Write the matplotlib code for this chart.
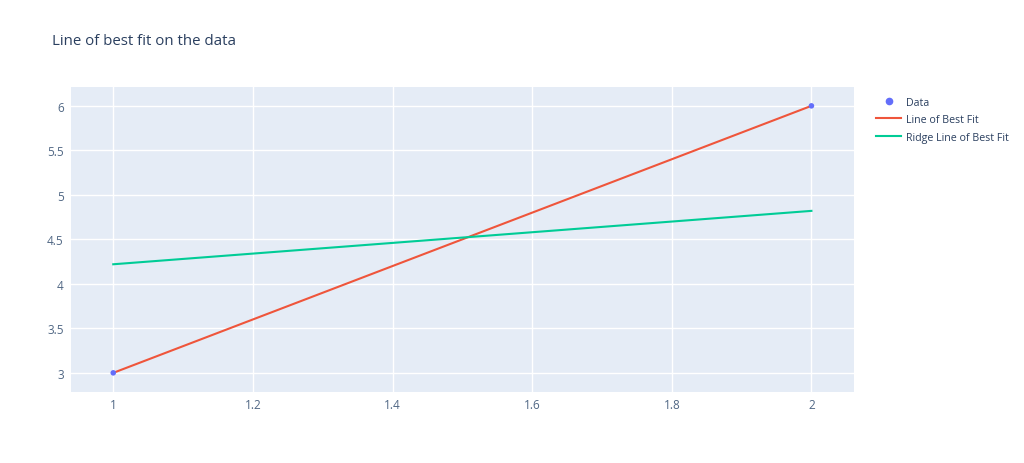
import matplotlib
matplotlib.use('Agg')
import matplotlib.pyplot as plt
from matplotlib.lines import Line2D
from matplotlib.ticker import FuncFormatter

# data
data_x = [1, 2]
data_y = [3, 6]
fit_x = [1, 2]
fit_y = [3, 6]
ridge_x = [1, 2]
ridge_y = [4.22, 4.82]
x_ticks = [1, 1.2, 1.4, 1.6, 1.8, 2]
y_ticks = [3, 3.5, 4, 4.5, 5, 5.5, 6]

plt.rcParams['font.family'] = ['Open Sans', 'DejaVu Sans']
text_color = '#2a3f5f'
tick_color = '#506784'

fig = plt.figure(figsize=(10.24, 4.64), dpi=100)
ax = fig.add_axes([0.069, 0.154, 0.765, 0.656])
ax.set_facecolor('#E5ECF6')

ax.plot(fit_x, fit_y, color='#EF553B', lw=1.5, zorder=3)
ax.plot(ridge_x, ridge_y, color='#00cc96', lw=1.5, zorder=3)
ax.scatter(data_x, data_y, color='#636efa', s=16, zorder=4, edgecolors='none')

ax.set_xlim(0.939, 2.061)
ax.set_ylim(2.79, 6.21)
ax.set_xticks(x_ticks)
ax.set_yticks(y_ticks)
fmt = FuncFormatter(lambda v, p: '%g' % v)
ax.xaxis.set_major_formatter(fmt)
ax.yaxis.set_major_formatter(fmt)
ax.grid(True, color='white', lw=1)
ax.set_axisbelow(True)
for s in ax.spines.values():
    s.set_visible(False)
ax.tick_params(length=0, labelsize=8.5, labelcolor=tick_color, pad=5)

fig.text(0.051, 0.911, 'Line of best fit on the data', fontsize=10.8,
         color=text_color, va='center', ha='left')

handles = [
    Line2D([], [], marker='o', color='#636efa', ls='none', markersize=4.5),
    Line2D([], [], color='#EF553B', lw=1.5),
    Line2D([], [], color='#00cc96', lw=1.5),
]
labels = ['Data', 'Line of Best Fit', 'Ridge Line of Best Fit']
fig.legend(handles, labels, loc='upper left', bbox_to_anchor=(0.851, 0.799),
           frameon=False, fontsize=7.7, labelcolor=text_color,
           handlelength=2.4, handletextpad=0.4, labelspacing=0.62,
           borderaxespad=0)

fig.savefig('out.png', dpi=100)
